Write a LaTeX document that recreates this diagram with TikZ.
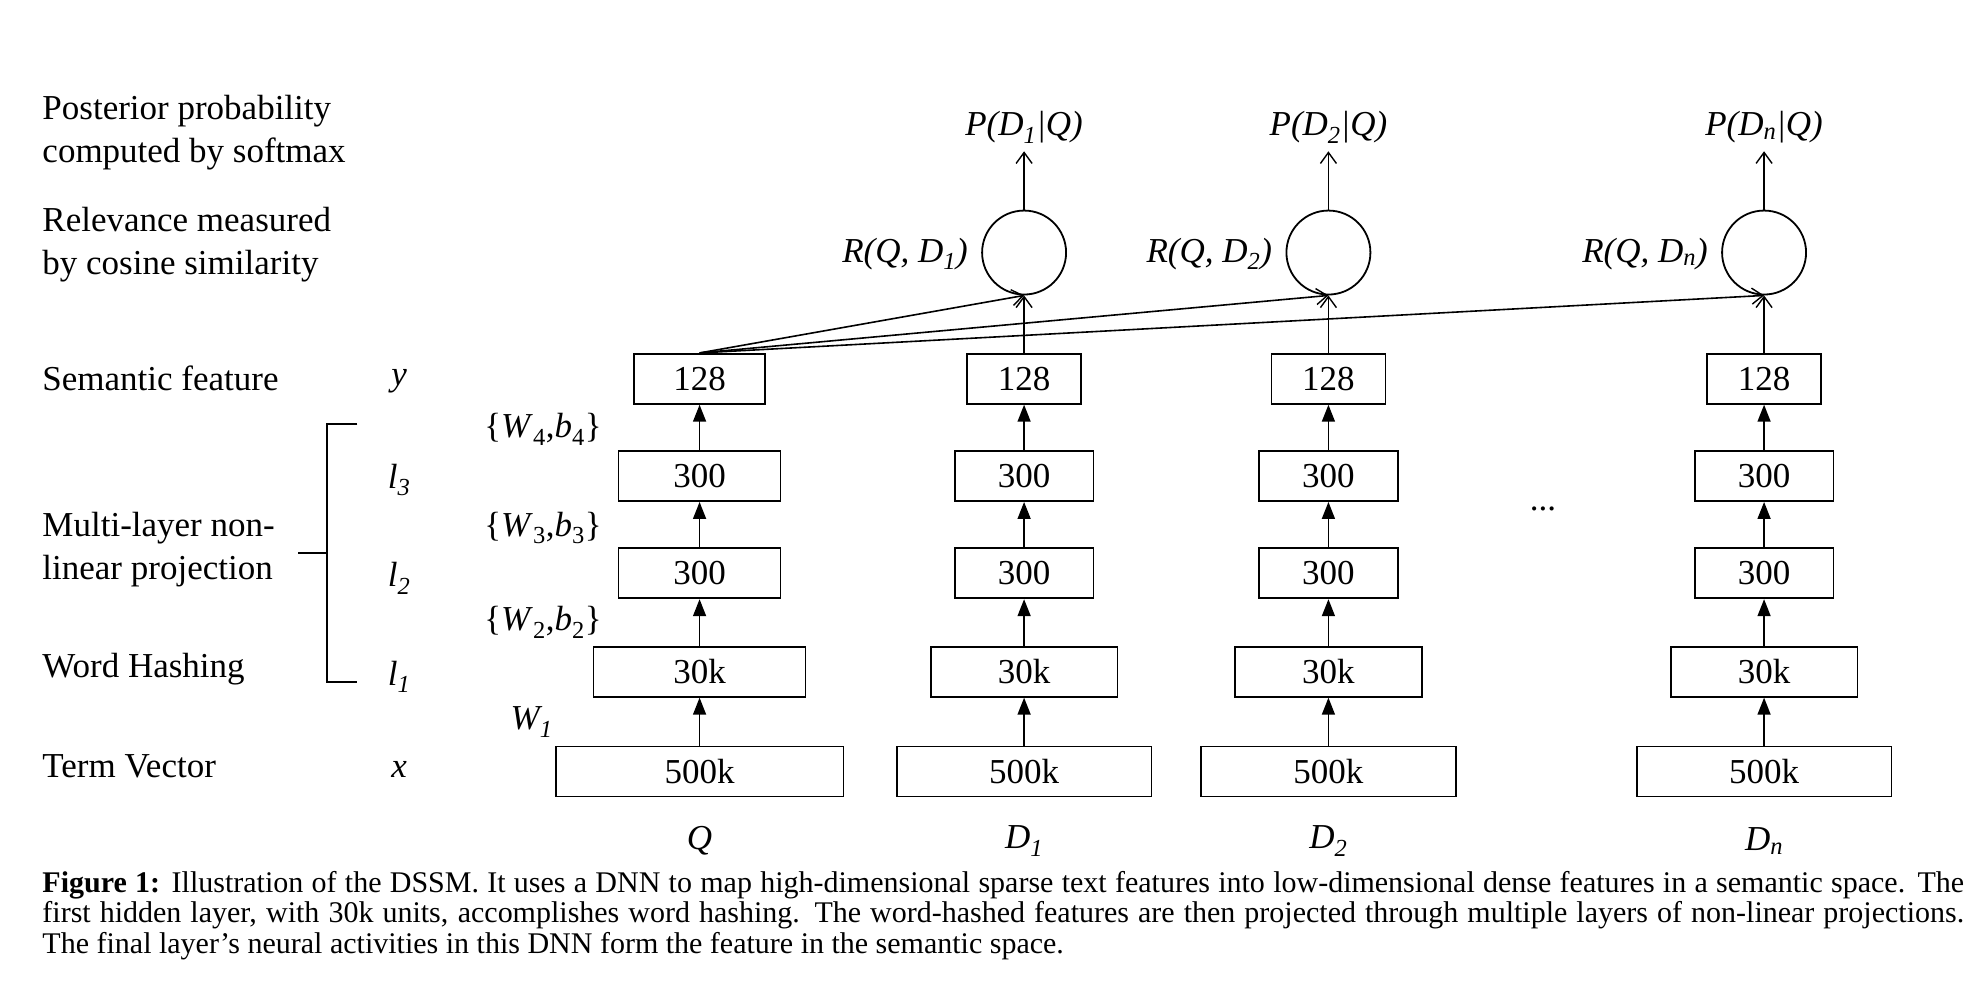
\documentclass[tikz,border=0pt]{standalone}
\usepackage{fontspec}
\setmainfont{Liberation Serif}
\usetikzlibrary{arrows.meta}
\begin{document}
\begin{tikzpicture}[x=1.263pt,y=-1.263pt,line width=1.6pt,
  box/.style={draw,line width=1.8pt,minimum height=50pt,inner sep=0pt,font=\fontsize{35}{40}\selectfont},
  fa/.style={-{Triangle[length=17pt,width=13pt]}},
  oa/.style={-{Straight Barb[length=11pt,width=16pt,line width=1.4pt]}},
  lbl/.style={font=\fontsize{35}{43}\selectfont,inner sep=0pt},
  var/.style={font=\fontsize{35}{43}\selectfont\itshape,inner sep=0pt},
  captxt/.style={font=\fontsize{30}{34}\selectfont,inner sep=0pt,anchor=west}]
\useasboundingbox (0,0) rectangle (1568,779);
% left labels
\node[lbl,anchor=west,align=left] (t1) at (33,105) {Posterior probability\\computed by softmax};
\node[lbl,anchor=west,align=left] (t2) at (33,194) {Relevance measured\\by cosine similarity};
\node[lbl,anchor=west] (t3) at (33,300) {Semantic feature};
\node[lbl,anchor=west,align=left] (t4) at (33,435) {Multi-layer non-\\linear projection};
\node[lbl,anchor=west] (t5) at (33,530) {Word Hashing};
\node[lbl,anchor=west] (t6) at (33,607) {Term Vector};
\node[var] (vy) at (316,302) {y};
\node[var] (vl3) at (316,380) {l\textsubscript{3}};
\node[var] (vl2) at (316,458) {l\textsubscript{2}};
\node[var] (vl1) at (316,536) {l\textsubscript{1}};
\node[var] (vx) at (316,609) {x};
\coordinate (b1) at (283,336); \coordinate (b2) at (259,336);
\coordinate (b3) at (259,540); \coordinate (b4) at (283,540);
\coordinate (m1) at (236,438); \coordinate (m2) at (259,438);
\draw (b1)--(b2)--(b3)--(b4); \draw (m1)--(m2);
\node[lbl] (w4) at (430,340) {\{\textit{W}\textsubscript{4},\textit{b}\textsubscript{4}\}};
\node[lbl] (w3) at (430,418) {\{\textit{W}\textsubscript{3},\textit{b}\textsubscript{3}\}};
\node[lbl] (w2) at (430,493) {\{\textit{W}\textsubscript{2},\textit{b}\textsubscript{2}\}};
\node[var] (w1) at (421,572) {W\textsubscript{1}};
\node[lbl] (dots) at (1222,403) {...};
% columns
\foreach \n/\x/\a/\b/\c/\d/\lab in {q/554/288/212/162/131/Q, d1/811/255/187/139/114/D\textsubscript{1}, d2/1052/255/187/139/114/D\textsubscript{2}, dn/1397/255/187/139/114/D\textsubscript{n}}{
  \node[box,minimum width=\a pt] (\n x) at (\x,611) {500k};
  \node[box,minimum width=\b pt] (\n h) at (\x,532) {30k};
  \node[box,minimum width=\c pt] (\n l) at (\x,454) {300};
  \node[box,minimum width=\c pt] (\n u) at (\x,377) {300};
  \node[box,minimum width=\d pt] (\n y) at (\x,300) {128};
  \draw[fa] (\n x)--(\n h); \draw[fa] (\n h)--(\n l);
  \draw[fa] (\n l)--(\n u); \draw[fa] (\n u)--(\n y);
  \node[var] (\n lab) at (\x,666) {\lab};
}
\foreach \n/\x/\s in {d1/811/1, d2/1052/2, dn/1397/n}{
  \node[draw,circle,line width=1.8pt,minimum size=84pt,inner sep=0pt] (\n c) at (\x,200) {};
  \node[var] (\n p) at (\x,101) {P(D\textsubscript{\s}|Q)};
  \node[var,anchor=east] (\n r) at (\x-44,201) {R(Q, D\textsubscript{\s})};
  \draw[oa,shorten >=7pt] (\n c)--(\n p);
  \draw[oa] (\n y)--(\n c.south);
  \draw[oa] (qy.north)--(\n c.south);
}
% caption
\node[captxt] (cap1) at (33,701) {\makebox[1922pt][s]{\textbf{Figure 1:} Illustration of the DSSM. It uses a DNN to map high-dimensional sparse text features into low-dimensional dense features in a semantic space. The}};
\node[captxt] (cap2) at (33,725) {\makebox[1922pt][s]{first hidden layer, with 30k units, accomplishes word hashing. The word-hashed features are then projected through multiple layers of non-linear projections.}};
\node[captxt] (cap3) at (33,749) {The final layer’s neural activities in this DNN form the feature in the semantic space.};
\end{tikzpicture}
\end{document}
